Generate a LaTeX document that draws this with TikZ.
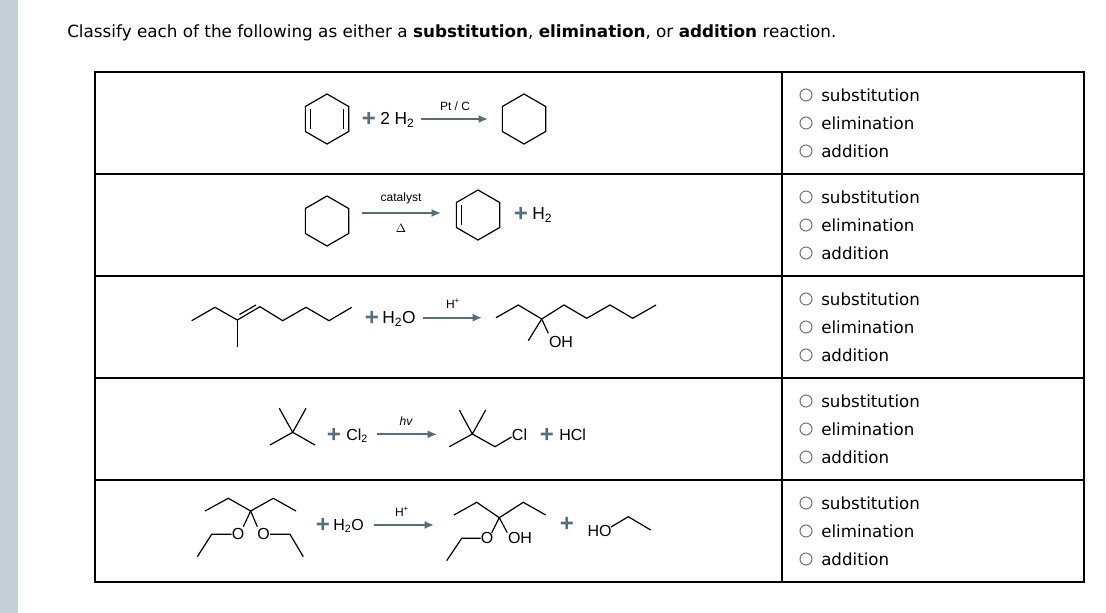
\documentclass[tikz,border=0pt]{standalone}
\usepackage{fontspec}
\setmainfont{Liberation Sans}
\newfontfamily\uifont{DejaVu Sans}
\usetikzlibrary{arrows.meta}
\definecolor{arr}{HTML}{546E7A}
\definecolor{side}{HTML}{C5D0D6}
\definecolor{radio}{HTML}{767676}
\tikzset{
 bond/.style={line width=0.9pt, line join=miter},
 rxn/.style={arr, line width=1.6pt, -{Latex[length=7pt,width=6pt]}},
 chem/.style={font=\fontsize{13}{13}\selectfont, inner sep=0pt},
 chems/.style={font=\fontsize{12}{12}\selectfont, inner sep=0pt},
 cond/.style={font=\fontsize{9}{9}\selectfont, inner sep=0pt},
 plus/.style={arr, font=\fontsize{18}{18}\selectfont\bfseries, inner sep=0pt},
 opt/.style={font=\uifont\fontsize{12.5}{13}\selectfont, anchor=west, inner sep=0pt},
 radiob/.style={radio, line width=0.8pt},
 grid/.style={line width=0.8pt},
}
\newcommand{\myhex}[2]{\draw[bond] (#1,#2)++(90:25) -- ++(210:25) -- ++(270:25) -- ++(330:25) -- ++(30:25) -- ++(90:25) -- cycle;}
\begin{document}
\begin{tikzpicture}[x=0.75pt,y=-0.75pt]
\useasboundingbox (0,0) rectangle (1106,613);
\fill[white] (0,0) rectangle (1106,613);
\fill[side] (0,0) rectangle (18,613);
\node[font=\uifont\fontsize{12.6}{13}\selectfont, anchor=west, inner sep=0pt] (title) at (67,33) {Classify each of the following as either a \textbf{substitution}, \textbf{elimination}, or \textbf{addition} reaction.};
% table
\draw[grid] (95,72) rectangle (1084,582);
\foreach \y in {174,276,378,480} \draw[grid] (95,\y) -- (1084,\y);
\draw[grid] (782,72) -- (782,582);
% options
\foreach \r in {0,1,2,3,4}{
  \pgfmathsetmacro{\yy}{95+102*\r}
  \draw[radiob] (806,\yy) circle (6);
  \node[opt] (s\r) at (821,\yy) {substitution};
  \draw[radiob] (806,\yy+28) circle (6);
  \node[opt] (e\r) at (821,\yy+28) {elimination};
  \draw[radiob] (806,\yy+56) circle (6);
  \node[opt] (a\r) at (821,\yy+56) {addition};
}
% ROW 1
\myhex{327}{119}
\draw[bond] (310.4,109) -- (310.4,129);
\draw[bond] (343.6,109) -- (343.6,129);
\node[plus] (p1) at (369,119) {+};
\node[chem, anchor=west] (h1) at (380,120) {2 H\textsubscript{2}};
\coordinate (a1s) at (421,119); \coordinate (a1e) at (488,119);
\draw[rxn] (a1s) -- (a1e);
\node[cond] (c1) at (455,106) {Pt / C};
\myhex{524}{119}
% ROW 2
\myhex{327}{221}
\coordinate (a2s) at (362,213); \coordinate (a2e) at (441,213);
\draw[rxn] (a2s) -- (a2e);
\node[cond] (c2) at (401,198) {catalyst};
\node[cond] (c2b) at (401,228) {$\Delta$};
\myhex{478}{215}
\draw[bond] (461.4,205) -- (461.4,225);
\node[plus] (p2) at (521,214) {+};
\node[chem, anchor=west] (h2) at (532,215) {H\textsubscript{2}};
% ROW 3
\draw[bond] (191.7,320.7) -- (215,307.3) -- (237.3,320) -- (260,306.7) -- (282.7,320.7) -- (306,307.3) -- (329,320.7) -- (351.7,307.3);
\draw[bond] (237.3,320) -- (237.3,346.7);
\draw[bond] (239.5,314.5) -- (256,305);
\node[plus] (p3) at (372,318) {+};
\node[chem, anchor=west] (w3) at (382,319) {H\textsubscript{2}O};
\coordinate (a3s) at (423,317.7); \coordinate (a3e) at (482,317.7);
\draw[rxn] (a3s) -- (a3e);
\node[cond] (c3) at (453,304) {H\textsuperscript{+}};
\draw[bond] (496,317.7) -- (518.3,305) -- (541.7,319) -- (564,305) -- (586.7,318.3) -- (610,305) -- (632.7,318.3) -- (656,305);
\draw[bond] (541.7,319) -- (528.3,340.7);
\draw[bond] (541.7,319) -- (548.3,333.3);
\node[chems] (oh3) at (561,342) {OH};
% ROW 4
\draw[bond] (279.3,408.3) -- (292.7,432.3) -- (306,408.3);
\draw[bond] (270,445) -- (292.7,432.3) -- (315,445);
\node[plus] (p4) at (334,435) {+};
\node[chems, anchor=west] (cl4) at (346,436) {Cl\textsubscript{2}};
\coordinate (a4s) at (376.7,434.3); \coordinate (a4e) at (437,434.3);
\draw[rxn] (a4s) -- (a4e);
\node[cond, font=\fontsize{9}{9}\selectfont\itshape] (c4) at (406,421) {hv};
\draw[bond] (459.3,410) -- (472.3,434) -- (485.7,410);
\draw[bond] (449.3,446.7) -- (472.3,434) -- (495,446.7) -- (511.5,437);
\node[chems] (clp) at (519.5,435) {Cl};
\node[plus] (p4b) at (547,435) {+};
\node[chems, anchor=west] (hcl) at (559,435) {HCl};
% ROW 5
\draw[bond] (205,511) -- (228.3,498.3) -- (250.7,511) -- (273.3,498.3) -- (296,511);
\draw[bond] (250.7,511) -- (243.3,526.7);
\draw[bond] (250.7,511) -- (257.3,526.7);
\node[chems] (o5a) at (238,534.3) {O};
\node[chems] (o5b) at (263.5,534.3) {O};
\draw[bond] (231.5,534.3) -- (211.7,534.3) -- (197.3,556.7);
\draw[bond] (270,534.3) -- (290,534.3) -- (303.3,556.7);
\node[plus] (p5) at (323,525) {+};
\node[chems, anchor=west] (w5) at (333,526) {H\textsubscript{2}O};
\coordinate (a5s) at (374,525); \coordinate (a5e) at (434,525);
\draw[rxn] (a5s) -- (a5e);
\node[cond] (c5) at (402,512) {H\textsuperscript{+}};
\draw[bond] (454,515) -- (476.7,502.3) -- (499.3,517.7) -- (523.3,502.3) -- (545.7,515);
\draw[bond] (499.3,517.7) -- (491.7,532.7);
\draw[bond] (499.3,517.7) -- (507.3,532.7);
\node[chems] (o5c) at (487,538.3) {O};
\node[chems] (oh5) at (520,538.3) {OH};
\draw[bond] (480.5,538.3) -- (461.7,538.3) -- (446.7,560.7);
\node[plus] (p5b) at (567,524) {+};
\node[chems] (ho5) at (599.5,530.7) {HO};
\draw[bond] (611,527) -- (628.3,516.7) -- (650.7,530);
\end{tikzpicture}
\end{document}
